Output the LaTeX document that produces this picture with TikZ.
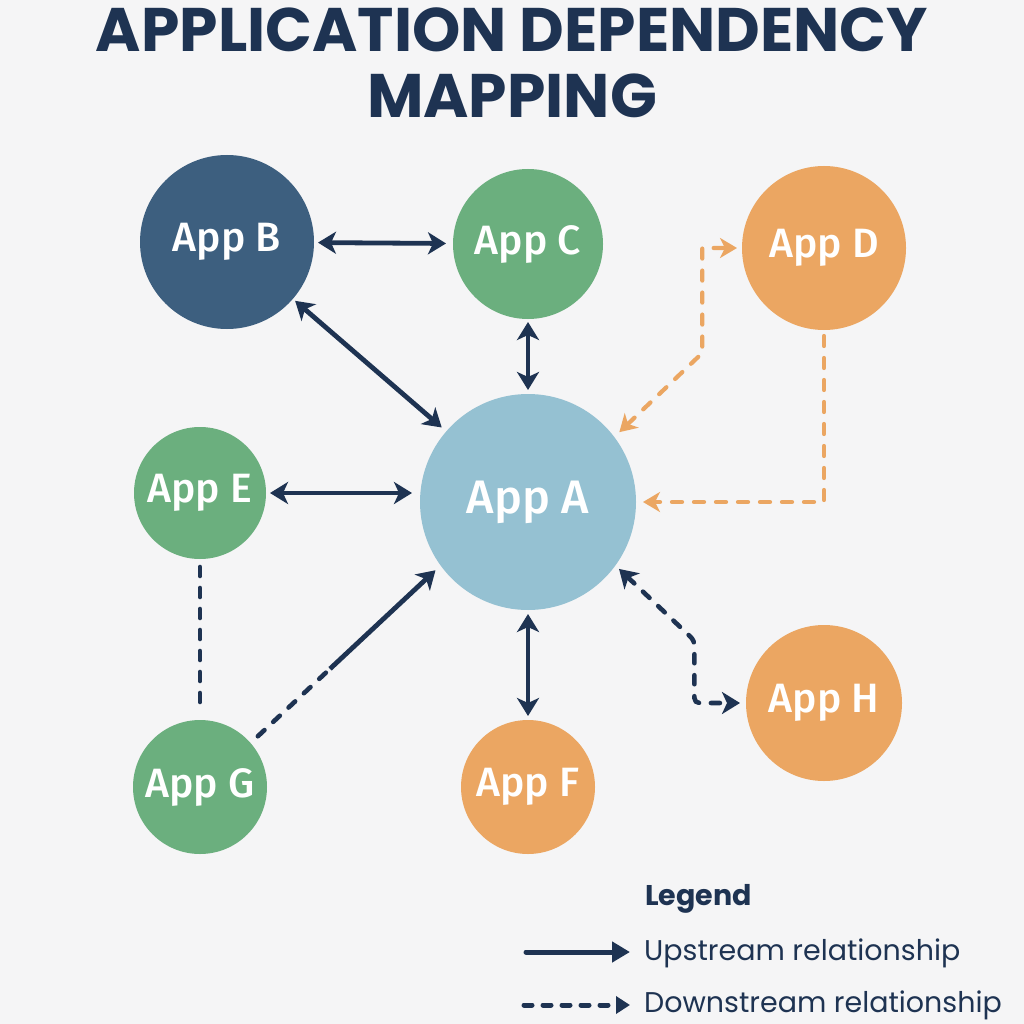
\documentclass[tikz,border=0pt]{standalone}
\usepackage{fontspec}
\setmainfont{Fira Sans}
\newfontfamily\titlefont{Poppins}
\newfontfamily\appfont{Fira Sans Medium}
\newfontfamily\legfont{Poppins}
\usetikzlibrary{arrows.meta,calc}
\definecolor{bg}{HTML}{F5F5F6}
\definecolor{navy}{HTML}{1E3352}
\definecolor{colB}{HTML}{3D5F7F}
\definecolor{colA}{HTML}{95C1D2}
\definecolor{grn}{HTML}{6BAF7E}
\definecolor{org}{HTML}{EBA662}
\begin{document}
\begin{tikzpicture}[x=1pt,y=-1pt,
  app/.style={circle,minimum size=#1,inner sep=0pt,outer sep=0pt,text=white,
    font=\appfont\fontsize{41}{41}\selectfont},
  link/.style={draw=navy,line width=4.8pt,{Stealth[length=18pt,width=22pt,inset=5pt]}-{Stealth[length=18pt,width=22pt,inset=5pt]}},
  dlink/.style={draw=navy,line width=4.6pt,line cap=round,dash pattern=on 9pt off 12pt},
  olink/.style={draw=org,line width=4.2pt,line cap=round,dash pattern=on 10pt off 12pt},
  ttl/.style={text=navy,font=\titlefont\bfseries\fontsize{61.5}{61.5}\selectfont},
  leg/.style={anchor=west,text=navy,inner sep=0pt,font=\legfont\fontsize{28.5}{28.5}\selectfont}
]
\useasboundingbox (0,0) rectangle (1024,1024);
\fill[bg] (0,0) rectangle (1024,1024);

% title
\node[ttl] (t1) at (512,30) {APPLICATION DEPENDENCY};
\node[ttl] (t2) at (512,96) {MAPPING};

% nodes
\node[app=174,fill=colB] (B) at (227,242) {App B};
\node[app=150,fill=grn] (C) at (528,244) {App C};
\node[app=164,fill=org] (D) at (824,248) {App D};
\node[app=216,fill=colA,font=\appfont\fontsize{47}{47}\selectfont] (A) at (528,502) {App A};
\node[app=132,fill=grn] (E) at (200,493) {App E};
\node[app=134,fill=grn] (G) at (200,787) {App G};
\node[app=134,fill=org] (F) at (528,787) {App F};
\node[app=156,fill=org] (H) at (824,703) {App H};

% solid links
\draw[link,shorten <=4pt,shorten >=7pt] (B) -- (C);
\draw[link,shorten <=3pt,shorten >=6pt] (B) -- (A);
\draw[link,shorten <=3pt,shorten >=4pt] (C) -- (A);
\draw[link,shorten <=4pt,shorten >=8pt] (E.east) -- (A.west |- E.east);
\draw[link,shorten <=4pt,shorten >=4pt] (A) -- (F);

% E -- G dashed
\draw[dlink,shorten <=8pt,shorten >=9pt] (E) -- (G);

% G -> A dashed then solid
\coordinate (gm) at ($(G.41)!0.4!(A.216)$);
\draw[dlink,shorten <=10pt] (G.41) -- (gm);
\draw[draw=navy,line width=4.8pt,-{Stealth[length=18pt,width=22pt,inset=5pt]},shorten >=7pt] ($(gm)!0.03!(A.216)$) -- (A.216);

% A <-> H dashed elbow
\draw[dlink,rounded corners=5pt,shorten <=5pt,shorten >=6pt,
  {Stealth[length=18pt,width=22pt,inset=5pt]}-{Stealth[length=18pt,width=22pt,inset=5pt]}]
  (A.-36) -- ++(79,75) |- (H.west);

% A <-> D orange dashed elbow
\draw[olink,shorten <=7pt,shorten >=5pt,
  {Stealth[length=17pt,width=20pt,inset=5pt]}-{Stealth[length=17pt,width=20pt,inset=5pt]}]
  (A.37) -- ++(88,-84) |- (D.west);

% D -> A orange dashed
\draw[olink,shorten <=6pt,shorten >=7pt,-{Stealth[length=17pt,width=20pt,inset=5pt]}]
  (D.south) |- (A.east);

% legend
\node[leg,font=\legfont\bfseries\fontsize{28.5}{28.5}\selectfont] (lg) at (645,899) {Legend};
\node[leg] (lu) at (644,953) {Upstream relationship};
\node[leg] (ld) at (644,1005) {Downstream relationship};
\coordinate (us) at (526,952);
\coordinate (ds) at (524,1005);
\draw[navy,line width=5pt,line cap=round,-{Triangle[length=18pt,width=20pt]}] (us) -- ($(lu.west)+(-14,-1)$);
\draw[navy,line width=5pt,line cap=round,dash pattern=on 8pt off 11pt,-{Triangle[length=14pt,width=17pt]}] (ds) -- ($(ld.west)+(-14,0)$);
\end{tikzpicture}
\end{document}
